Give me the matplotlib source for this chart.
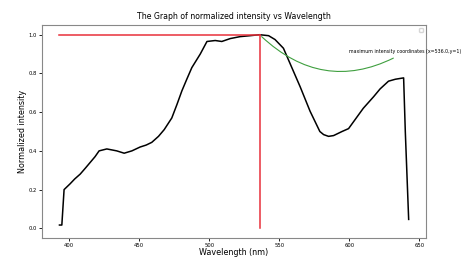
import numpy as np
import matplotlib
matplotlib.use("Agg")
import matplotlib.pyplot as plt

# wavelength (nm) and normalized intensity
wavelength = [393.1, 394.8, 396.4, 400.7, 404.0, 407.9, 411.5, 415.0, 418.5, 421.4,
              426.9, 430.5, 434.0, 439.3, 444.8, 450.7, 455.0, 459.0, 463.8, 467.9,
              473.3, 477.0, 480.5, 484.0, 487.6, 493.6, 498.4, 504.3, 509.0, 515.0,
              522.0, 529.3, 536.0, 542.4, 547.0, 553.0, 559.0, 565.0, 572.0, 579.0,
              581.7, 585.2, 588.8, 594.8, 599.5, 603.0, 606.5, 610.0, 617.4, 622.0,
              628.0, 632.9, 638.8, 640.0, 642.4]
intensity = [0.017, 0.017, 0.20, 0.23, 0.255, 0.28, 0.31, 0.34, 0.37, 0.40,
             0.41, 0.405, 0.40, 0.388, 0.40, 0.42, 0.43, 0.444, 0.475, 0.51,
             0.57, 0.64, 0.71, 0.77, 0.83, 0.90, 0.965, 0.97, 0.965, 0.98,
             0.99, 0.995, 1.0, 0.995, 0.975, 0.93, 0.83, 0.73, 0.605, 0.50,
             0.484, 0.475, 0.479, 0.50, 0.515, 0.55, 0.585, 0.62, 0.68, 0.72,
             0.76, 0.77, 0.777, 0.50, 0.046]

max_wl = 536.0
max_int = 1

fig = plt.figure(figsize=(4.74, 2.58), dpi=100)
ax = fig.add_axes([0.0886, 0.0775, 0.8104, 0.8255])

ax.plot(wavelength, intensity, color="black", lw=1.1)
ax.plot([min(wavelength), max_wl], [max_int, max_int], color="#e8303a", lw=1.1)
ax.plot([max_wl, max_wl], [0, max_int], color="#e8303a", lw=1.1)

ax.annotate("maximum intensity coordinates (x=536.0,y=1)", xy=(max_wl, max_int),
            xytext=(600, 0.905), fontsize=3.4, annotation_clip=False,
            arrowprops=dict(arrowstyle="-", color="#3f9f3f", lw=0.8,
                            connectionstyle="arc3,rad=-0.38"))

ax.set_title("The Graph of normalized intensity vs Wavelength", fontsize=5.6, pad=4)
ax.set_xlabel("Wavelength (nm)", fontsize=5.8, labelpad=0)
ax.set_ylabel("Normalized intensity", fontsize=5.8, labelpad=1)
ax.tick_params(labelsize=3.8, length=2, width=0.6, pad=1.5)
for s in ax.spines.values():
    s.set_color("#888888")
    s.set_linewidth(0.8)

ax.legend(handles=[], loc="upper right", fontsize=4)

fig.savefig("out.png", dpi=100)
